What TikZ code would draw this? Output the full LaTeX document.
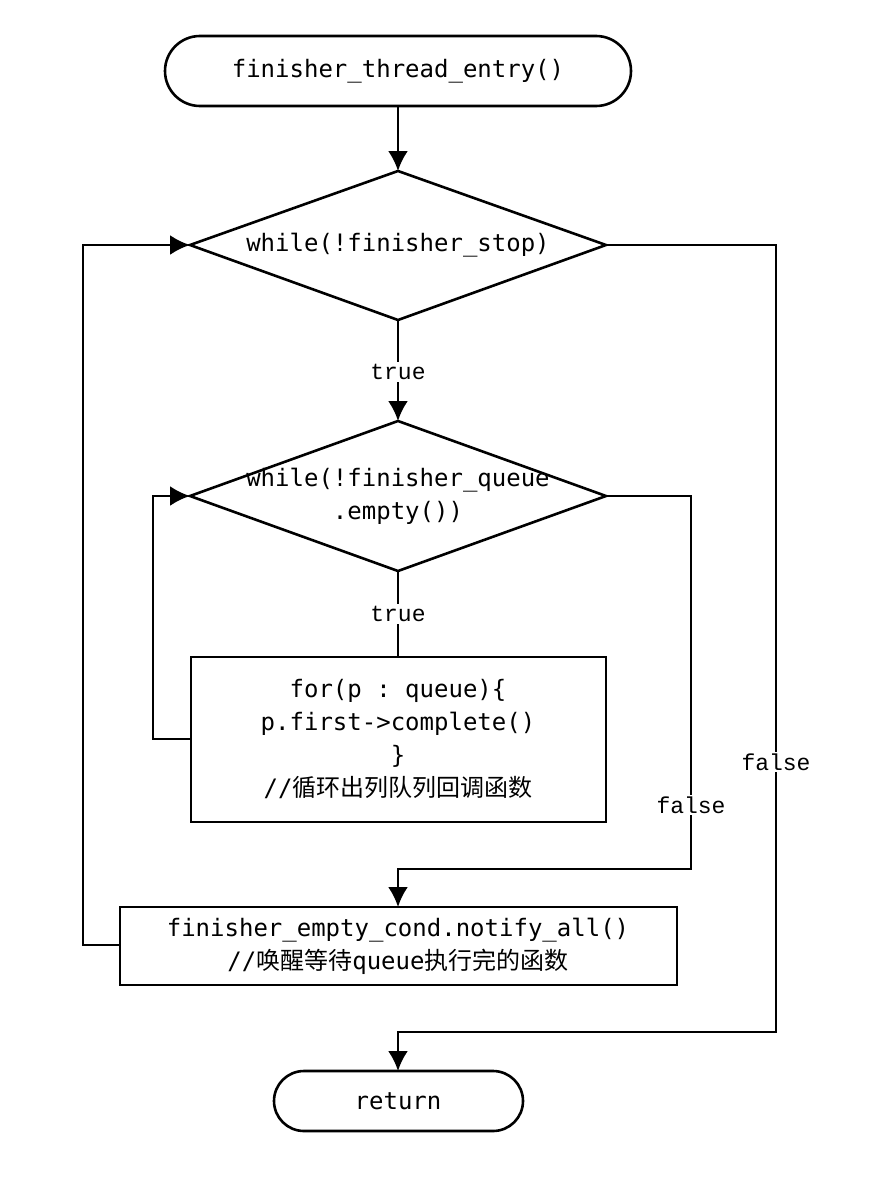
\documentclass[tikz,border=0pt]{standalone}
\usepackage{fontspec}
\setmonofont{DejaVu Sans Mono}
\newfontfamily\lblfont{Liberation Mono}
\newfontfamily\cjk{Noto Sans CJK SC}
\usetikzlibrary{shapes.geometric,arrows.meta}
\begin{document}
\begin{tikzpicture}[x=1pt,y=-1pt,line width=2.6pt,
  >={Latex[length=20pt,width=20pt]},
  txt/.style={font=\ttfamily\fontsize{24}{33}\selectfont,align=center},
  lbl/.style={font=\lblfont\fontsize{23}{26}\selectfont,fill=white,inner sep=2pt}]
\useasboundingbox (0,0) rectangle (869,1183);
% terminals
\draw[rounded corners=35pt] (165,36) rectangle (631,106);
\node[txt] (start) at (398,71) {finisher\_thread\_entry()};
\draw[rounded corners=30pt] (274,1071) rectangle (523,1131);
\node[txt] (ret) at (398,1101) {return};
% decisions
\draw (190,245) -- (398,171) -- (606,245) -- (398,320) -- cycle;
\node[txt] (d1) at (398,245) {while(!finisher\_stop)};
\draw (190,496) -- (398,421) -- (606,496) -- (398,571) -- cycle;
\node[txt] (d2) at (398,496) {while(!finisher\_queue\\.empty())};
% boxes
\draw (191,657) rectangle (606,822);
\node[txt] (b1) at (398,739) {for(p : queue)\{\\p.first->complete()\\\}\\//{\cjk 循环出列队列回调函数}};
\draw (120,907) rectangle (677,985);
\node[txt] (b2) at (398,946) {finisher\_empty\_cond.notify\_all()\\//{\cjk 唤醒等待}queue{\cjk 执行完的函数}};
% connectors
\draw[->] (398,106) -- (398,171);
\draw[->] (398,320) -- (398,421);
\node[lbl] (t1) at (398,372) {true};
\draw (398,571) -- (398,657);
\node[lbl] (t2) at (398,614) {true};
\draw[->] (120,945) -- (83,945) -- (83,245) -- (190,245);
\draw[->] (191,739) -- (153,739) -- (153,496) -- (190,496);
\draw[->] (606,245) -- (776,245) -- (776,1032) -- (398,1032) -- (398,1071);
\node[lbl] (f1) at (776,762) {false};
\draw[->] (606,496) -- (691,496) -- (691,869) -- (398,869) -- (398,907);
\node[lbl] (f2) at (691,805) {false};
\end{tikzpicture}
\end{document}
